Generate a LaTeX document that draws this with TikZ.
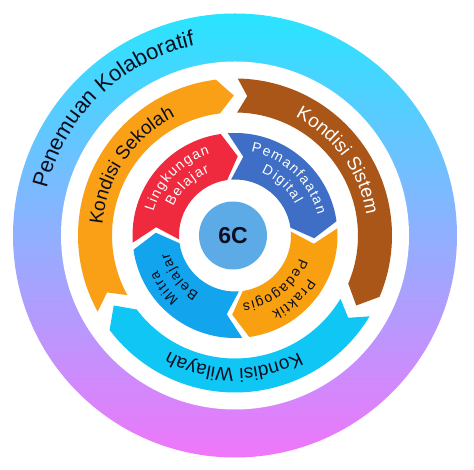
\documentclass[tikz,border=0pt]{standalone}
\usepackage{fontspec}
\setmainfont{Liberation Sans}
\usetikzlibrary{decorations.text}
\definecolor{ringtop}{RGB}{40,228,255}
\definecolor{ringmid}{RGB}{145,175,255}
\definecolor{ringbot}{RGB}{240,118,250}
\definecolor{aorange}{RGB}{249,160,22}
\definecolor{abrown}{RGB}{170,86,24}
\definecolor{acyan}{RGB}{16,198,245}
\definecolor{ired}{RGB}{240,42,62}
\definecolor{iblue}{RGB}{62,110,198}
\definecolor{iorange}{RGB}{249,160,16}
\definecolor{imitra}{RGB}{18,164,236}
\definecolor{ccenter}{RGB}{92,170,230}
\definecolor{txtdark}{RGB}{10,14,30}
% #1 color, #2 rin, #3 rout, #4 tail angle, #5 head angle, #6 head depth, #7 notch depth
\newcommand{\carrow}[7]{\fill[#1] (#4:#3) arc[start angle=#4, end angle=#5, radius=#3]
  -- ({#5-#6}:{(#2+#3)/2}) -- (#5:#2) arc[start angle=#5, end angle=#4, radius=#2]
  -- ({#4-#7}:{(#2+#3)/2}) -- cycle;}
% #1 color, #2 radius, #3 centre angle, #4 text (with format)
\newcommand{\arctext}[4]{\path[decorate, decoration={text along path, text align=center,
  text color=#1, text={#4}}] ({#3+70}:#2) arc[start angle={#3+70}, end angle={#3-70}, radius=#2];}
\newcommand{\innerfmt}{\fontsize{14}{16}\selectfont\kern1.3pt}
\begin{document}
\begin{tikzpicture}[x=1pt,y=1pt]
\useasboundingbox (0,0) rectangle (474,470);
\fill[white] (0,0) rectangle (474,470);
\begin{scope}[shift={(235,234.5)}]
  % outer gradient ring
  \shade[top color=ringtop, bottom color=ringbot, middle color=ringmid] (0,0) circle[radius=222];
  \fill[white] (0,0) circle[radius=174];
  % outer arrows
  \carrow{aorange}{123}{157}{209}{97}{6.5}{5}
  \carrow{abrown}{123}{157}{89}{-23}{7}{4}
  \carrow{acyan}{123}{157}{-31}{-143}{7}{5}
  % inner arrows
  \carrow{ired}{56}{102.5}{184}{98}{10}{10}
  \carrow{iblue}{56}{102.5}{94}{8}{10}{10}
  \carrow{iorange}{56}{102.5}{4}{-82}{10}{10}
  \carrow{imitra}{56}{102.5}{-86}{-172}{10}{10}
  % centre
  \node[circle, fill=ccenter, minimum size=68, inner sep=0pt, text=txtdark,
    font=\bfseries\fontsize{23}{23}\selectfont] (c6) at (-2,0) {6C};
  % outer texts
  \arctext{txtdark}{194}{134}{|\fontsize{22}{26}\selectfont|Penemuan Kolaboratif}
  \arctext{txtdark}{133}{146}{|\fontsize{19}{22}\selectfont|Kondisi Sekolah}
  \arctext{white}{133}{36}{|\fontsize{19}{22}\selectfont|Kondisi Sistem}
  \arctext{txtdark}{133}{-90.5}{|\fontsize{19}{22}\selectfont|Kondisi Wilayah}
  % inner texts
  \arctext{white}{85}{136}{|\innerfmt|Lingkungan}
  \arctext{white}{68}{134}{|\innerfmt|Belajar}
  \arctext{white}{85}{47}{|\innerfmt|Pemanfaatan}
  \arctext{white}{68}{48}{|\innerfmt|Digital}
  \arctext{txtdark}{85}{-47}{|\innerfmt|Praktik}
  \arctext{txtdark}{68}{-51}{|\innerfmt|Pedagogis}
  \arctext{txtdark}{85}{-143}{|\innerfmt|Mitra}
  \arctext{txtdark}{68}{-143}{|\innerfmt|Belajar}
\end{scope}
\end{tikzpicture}
\end{document}
